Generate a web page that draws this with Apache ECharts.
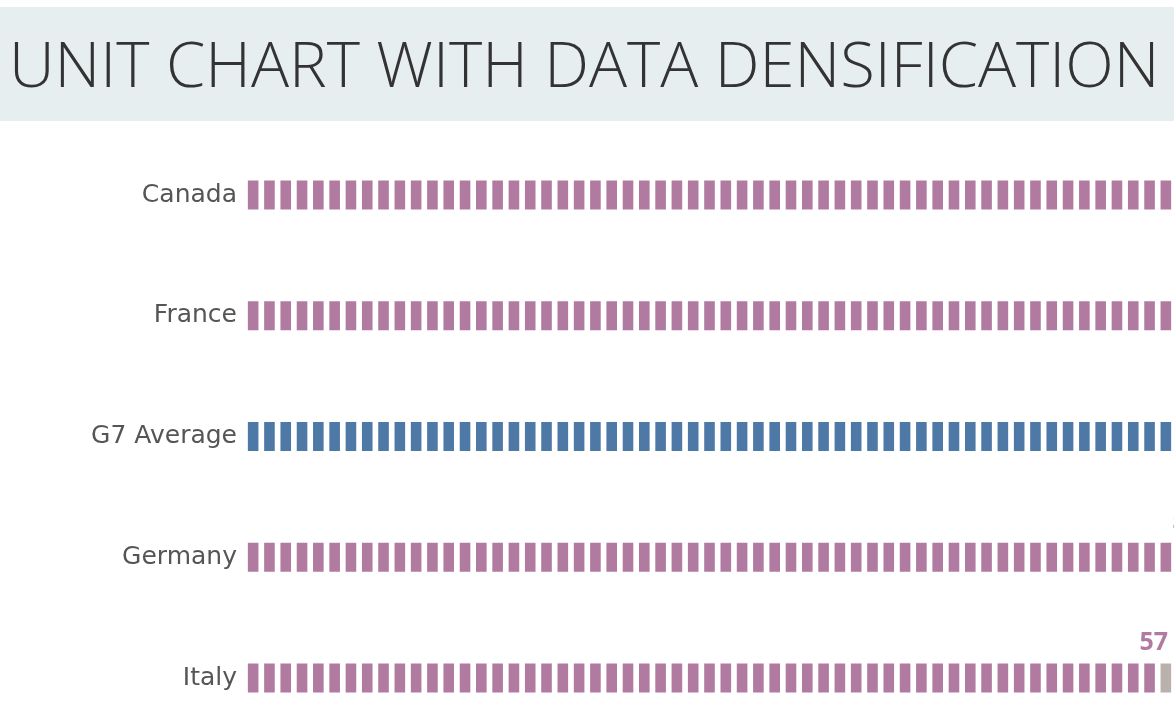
<!DOCTYPE html>
<html>
<head>
<meta charset="utf-8">
<script src="https://cdn.jsdelivr.net/npm/echarts@6/dist/echarts.min.js"></script>
<style>
html,body{margin:0;padding:0;background:#fff;}
#chart{width:1174px;height:725px;}
</style>
</head>
<body>
<div id="chart"></div>
<script>
// Data
var titleText = 'UNIT CHART WITH DATA DENSIFICATION';
var categories = ['Canada', 'France', 'G7 Average', 'Germany', 'Italy'];
var unitCounts = [64, 63, 62, 59, 57];
var rowColors = ['#b07aa1', '#b07aa1', '#4e79a7', '#b07aa1', '#b07aa1'];
var lastUnitColor = '#bab0ac';

var chart = echarts.init(document.getElementById('chart'), null, {renderer: 'canvas'});

var points = [];
categories.forEach(function (cat, r) {
  var n = unitCounts[r];
  for (var i = 0; i < n; i++) {
    var isLast = (i === n - 1);
    var p = {
      value: [i + 0.5, cat],
      itemStyle: {color: (isLast && r !== 2) ? lastUnitColor : rowColors[r], opacity: 1}
    };
    if (isLast) {
      p.label = {
        show: true,
        formatter: String(n),
        position: 'inside',
        offset: [-12, -35],
        color: rowColors[r],
        fontFamily: 'Open Sans',
        fontWeight: 'bold',
        fontSize: 25
      };
    }
    points.push(p);
  }
});

var option = {
  backgroundColor: '#ffffff',
  animation: false,
  graphic: [
    {type: 'rect', shape: {x: 0, y: 7, width: 1174, height: 114}, style: {fill: '#e7eef0'}, z: 0},
    {type: 'text', x: 9, y: 69, style: {text: titleText, fill: '#333333', font: '300 63.4px "Open Sans"', textVerticalAlign: 'middle'}, z: 1}
  ],
  grid: {left: 245, right: 0, top: 195, bottom: 47, containLabel: false},
  xAxis: {
    type: 'value', min: 0, max: 57, show: false
  },
  yAxis: {
    type: 'category', data: categories, inverse: true, boundaryGap: false,
    axisLine: {show: false}, axisTick: {show: false}, splitLine: {show: false},
    axisLabel: {color: '#555555', fontFamily: 'DejaVu Sans', fontSize: 25, margin: 8, padding: [5, 0, 0, 0]}
  },
  series: [{
    type: 'scatter',
    symbol: 'rect',
    symbolSize: [10.6, 29],
    itemStyle: {opacity: 1},
    data: points,
    clip: false
  }]
};
chart.setOption(option);
</script>
</body>
</html>
